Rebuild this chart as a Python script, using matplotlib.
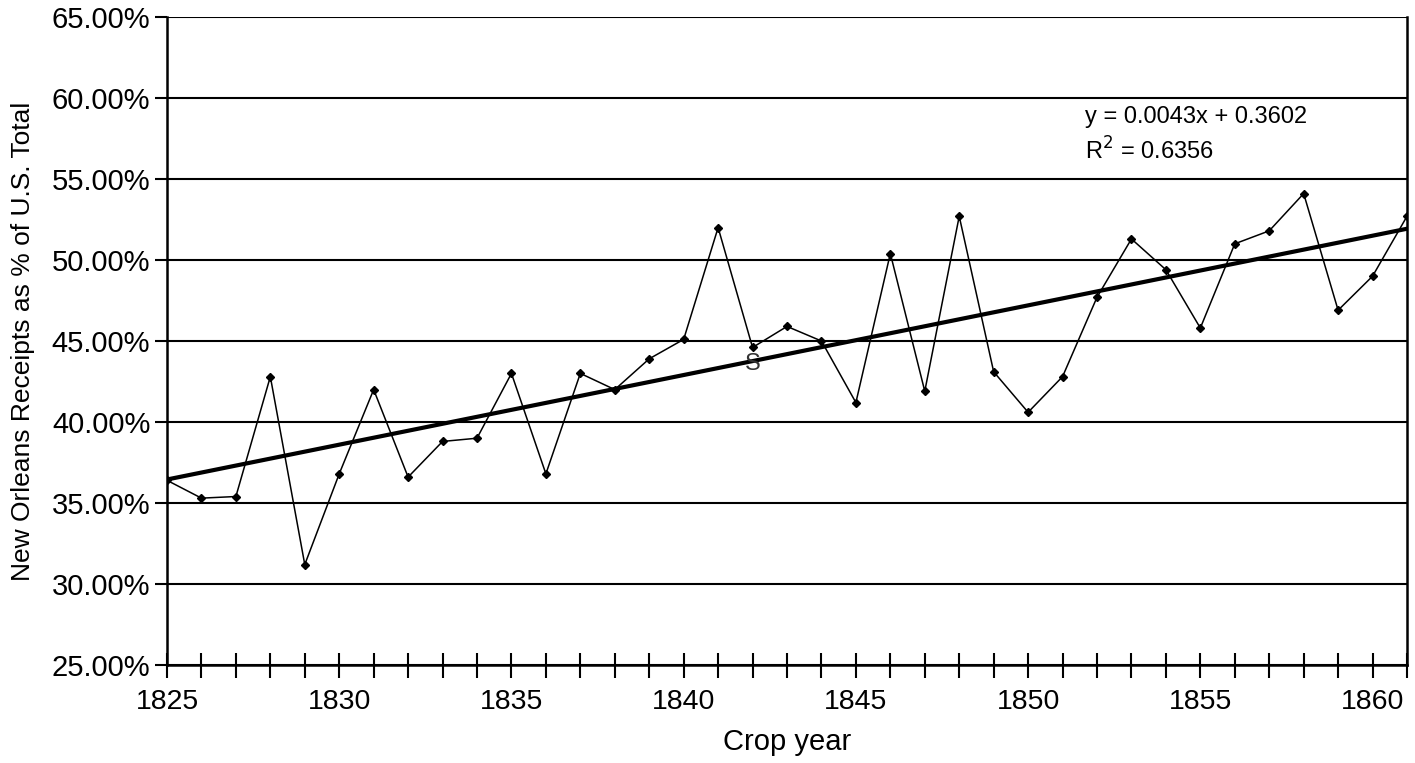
import numpy as np
import matplotlib
matplotlib.use("Agg")
import matplotlib.pyplot as plt
from matplotlib.ticker import FuncFormatter, MultipleLocator

plt.rcParams['font.family'] = ['Liberation Sans', 'DejaVu Sans']

# === data ===
years = list(range(1825, 1862))
share = [36.4, 35.3, 35.4, 42.8, 31.2, 36.8, 42.0, 36.6, 38.8, 39.0,
         43.0, 36.8, 43.0, 42.0, 43.9, 45.1, 52.0, 44.6, 45.9, 45.0,
         41.2, 50.4, 41.9, 52.7, 43.1, 40.6, 42.8, 47.7, 51.3, 49.4,
         45.8, 51.0, 51.8, 54.1, 46.9, 49.0, 52.7]
slope, intercept = 0.0043, 0.3602
r_squared = 0.6356
y_ticks = [25, 30, 35, 40, 45, 50, 55, 60, 65]

# trend line as in the spreadsheet (x = 1, 2, ... n)
idx = np.arange(1, len(years) + 1)
trend = (slope * idx + intercept) * 100

fig = plt.figure(figsize=(14.15, 7.63), dpi=100)
ax = fig.add_axes([167 / 1415, 1 - 665 / 763, (1407 - 167) / 1415, (665 - 17) / 763])

for y in y_ticks:
    ax.axhline(y, color='black', lw=1.5, zorder=1)

ax.plot(years, share, color='black', lw=1.1, marker='D', markersize=4, zorder=3)
ax.plot(years, trend, color='black', lw=3.0, zorder=2)

ax.text(1851.65, 58.8, f"y = {slope}x + {intercept}", fontsize=17, va='center', ha='left')
ax.text(1851.65, 56.7, f"R$^2$ = {r_squared}", fontsize=17, va='center', ha='left')
ax.text(1842, 43.6, "S", fontsize=17, color='#333333', ha='center', va='center')

ax.set_xlim(1825, 1861)
ax.set_ylim(25, 65)
ax.set_yticks(y_ticks)
ax.yaxis.set_major_formatter(FuncFormatter(lambda v, p: f"{v:.2f}%"))
ax.xaxis.set_major_locator(MultipleLocator(5))
ax.xaxis.set_minor_locator(MultipleLocator(1))
ax.tick_params(axis='x', which='both', direction='inout', length=18, width=1.5,
               labelsize=20.5, pad=8)
ax.tick_params(axis='y', direction='out', length=9, width=1.5, labelsize=21, pad=3)

for side in ['left', 'bottom', 'right']:
    ax.spines[side].set_linewidth(1.8)
ax.spines['top'].set_visible(False)

ax.set_xlabel("Crop year", fontsize=21, labelpad=10)
ax.set_ylabel("New Orleans Receipts as % of U.S. Total", fontsize=19, labelpad=12)

fig.savefig("out.png", dpi=100)
